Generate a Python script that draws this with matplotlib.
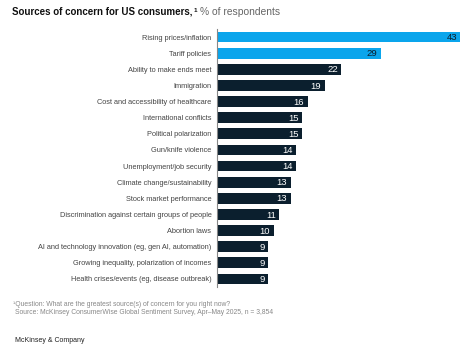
import matplotlib
matplotlib.use("Agg")
import matplotlib.pyplot as plt

categories = [
    "Rising prices/inflation",
    "Tariff policies",
    "Ability to make ends meet",
    "Immigration",
    "Cost and accessibility of healthcare",
    "International conflicts",
    "Political polarization",
    "Gun/knife violence",
    "Unemployment/job security",
    "Climate change/sustainability",
    "Stock market performance",
    "Discrimination against certain groups of people",
    "Abortion laws",
    "AI and technology innovation (eg, gen AI, automation)",
    "Growing inequality, polarization of incomes",
    "Health crises/events (eg, disease outbreak)",
]
values = [43, 29, 22, 19, 16, 15, 15, 14, 14, 13, 13, 11, 10, 9, 9, 9]
highlight = [True, True] + [False] * 14

BLUE = "#0AA5EC"
NAVY = "#0B1F2E"

plt.rcParams["font.family"] = ["Liberation Sans", "DejaVu Sans"]

fig = plt.figure(figsize=(4.74, 3.54), dpi=100)
ax = fig.add_axes([217 / 474, 1 - 287 / 354, 245 / 474, 258 / 354])

ys = list(range(len(categories)))
colors = [BLUE if h else NAVY for h in highlight]
ax.barh(ys, values, height=0.67, color=colors, edgecolor="none")
ax.set_xlim(0, 43.3)
ax.set_ylim(len(categories) - 0.5, -0.5)

for y, v, h in zip(ys, values, highlight):
    ax.text(v - 0.6, y + 0.04, str(v), ha="right", va="center",
            fontsize=6.8, color=NAVY if h else "white")

ax.set_yticks(ys)
ax.set_yticklabels(categories, fontsize=5.3, color="#444444")
ax.tick_params(axis="y", length=0, pad=4)
ax.set_xticks([])
for s in ["top", "right", "bottom"]:
    ax.spines[s].set_visible(False)
ax.spines["left"].set_color("#888888")
ax.spines["left"].set_linewidth(0.8)

base_y = 1 - 15 / 354
t1 = fig.text(12 / 474, base_y, "Sources of concern for US consumers,", fontsize=7.0,
              fontweight="bold", color="#111111", va="baseline", ha="left")
fig.canvas.draw()
bb = t1.get_window_extent()
x_end = bb.x1 / fig.bbox.width
fig.text(x_end + 1 / 474, base_y + 3 / 354, "1", fontsize=4.5, fontweight="bold",
         color="#111111", va="baseline", ha="left")
fig.text(x_end + 8 / 474, base_y, "% of respondents", fontsize=7.4,
         color="#666666", va="baseline", ha="left")

fig.text(13 / 474, 1 - 305 / 354,
         "\u00b9Question: What are the greatest source(s) of concern for you right now?",
         fontsize=4.9, color="#888888", va="center", ha="left")
fig.text(15 / 474, 1 - 313 / 354,
         "Source: McKinsey ConsumerWise Global Sentiment Survey, Apr\u2013May 2025, n = 3,854",
         fontsize=4.9, color="#888888", va="center", ha="left")
fig.text(15 / 474, 1 - 340 / 354, "McKinsey & Company", fontsize=5.0,
         color="#222222", va="center", ha="left")

fig.savefig("out.png", dpi=100)
